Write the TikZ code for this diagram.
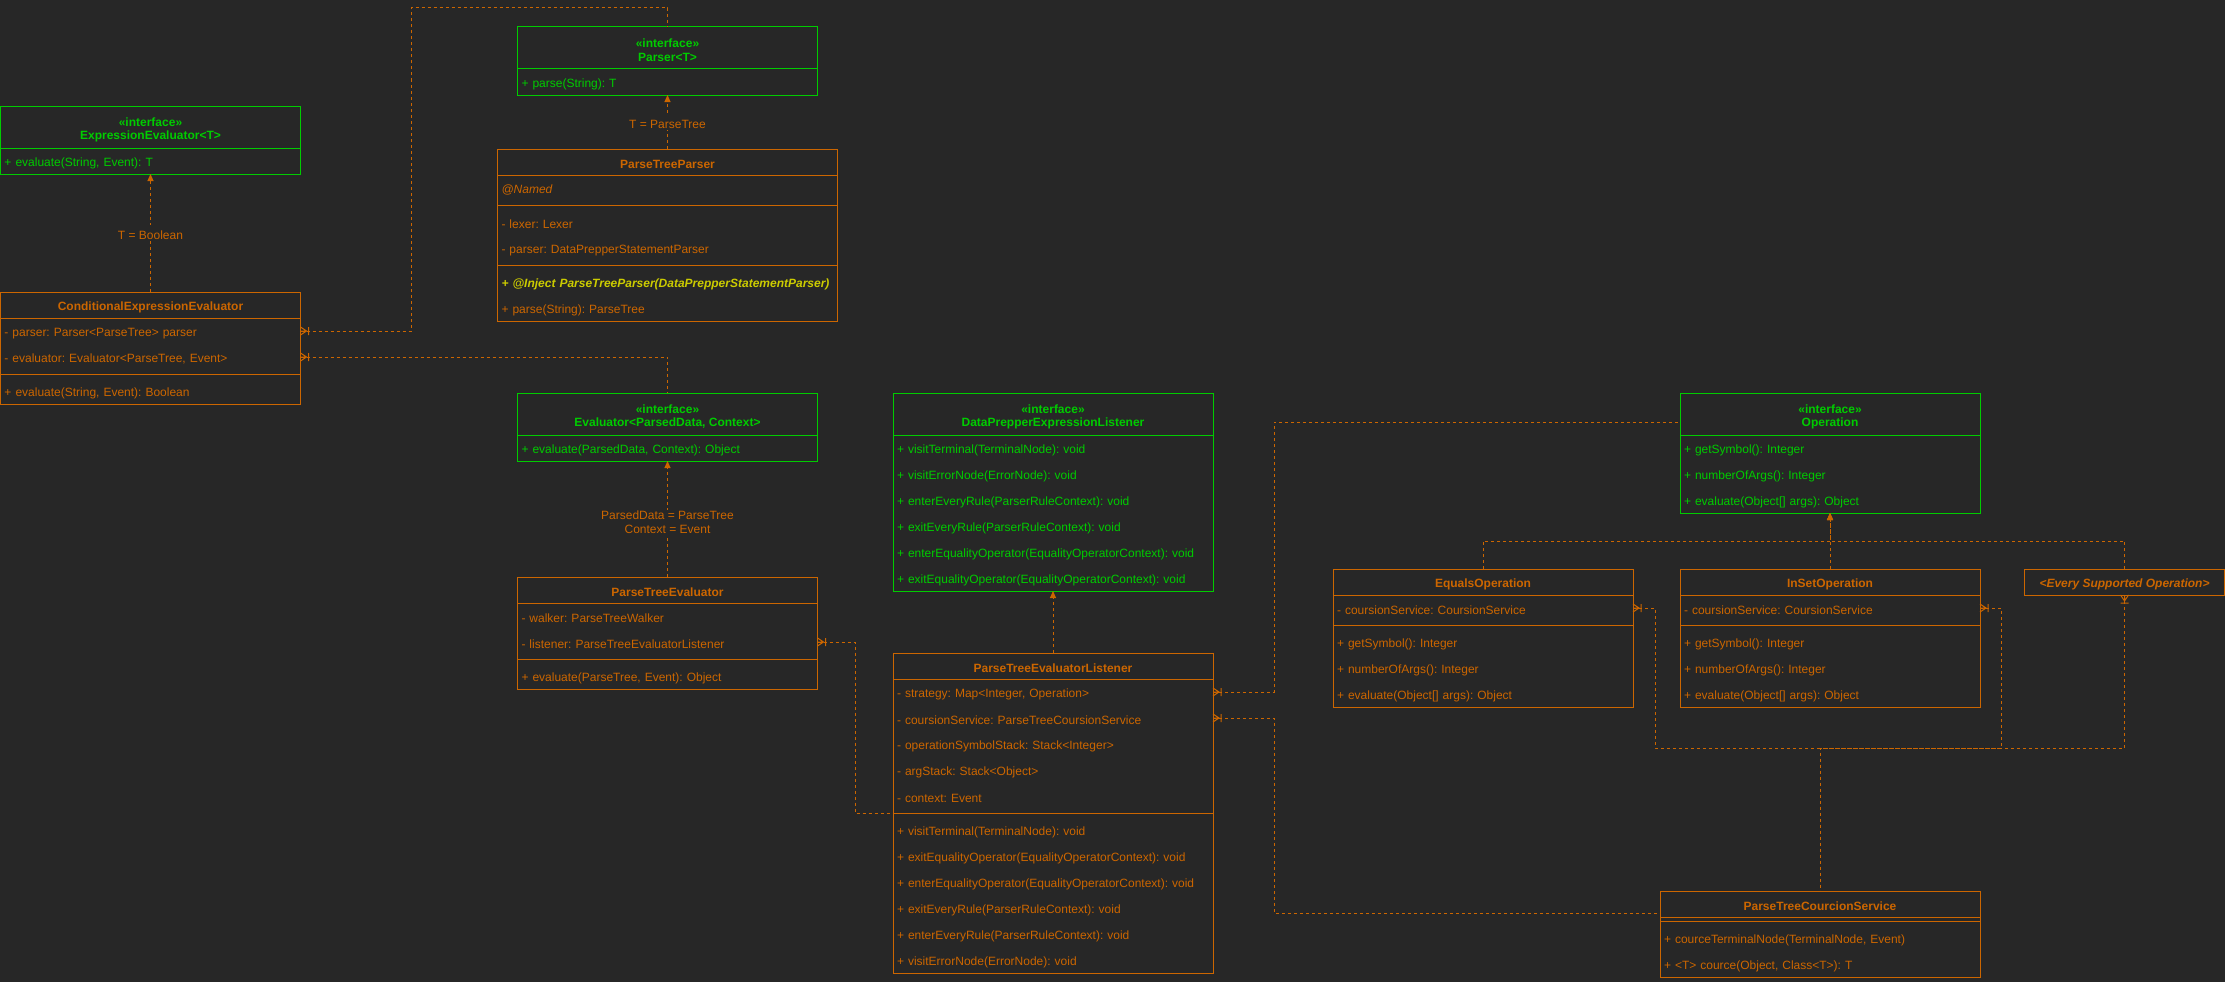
\documentclass[tikz,border=0pt]{standalone}
\usepackage{fontspec}
\setmainfont{Liberation Sans}
\usetikzlibrary{arrows.meta}
\definecolor{bgc}{HTML}{272727}
\definecolor{org}{HTML}{CC6600}
\definecolor{grn}{HTML}{00CC00}
\definecolor{ylw}{HTML}{CCCC00}
\newcommand\rowstrut{\rule[-0.6pt]{0pt}{14pt}}
\begin{document}
\frenchspacing
\begin{tikzpicture}[x=1pt,y=-1pt,
  txt/.style={font=\fontsize{12}{14.4}\selectfont, inner sep=0pt, outer sep=0pt, execute at begin node=\rowstrut},
  ttl/.style={txt, font=\fontsize{12}{14.4}\selectfont\bfseries},
  row/.style={txt, anchor=north west, minimum height=26pt, inner xsep=4pt, inner ysep=0pt, text width=#1, align=left},
  cbox/.style={draw=org, line width=1pt, anchor=north west, inner sep=0pt, outer sep=0pt},
  ibox/.style={draw=grn, line width=1pt, anchor=north west, inner sep=0pt, outer sep=0pt},
  osep/.style={draw=org, line width=1pt},
  gsep/.style={draw=grn, line width=1pt},
  dep/.style={draw=org, line width=1pt, dash pattern=on 3pt off 3pt},
  real/.style={dep, -{Triangle[length=7pt,width=6pt]}},
  lbl/.style={txt, fill=bgc, text=org, align=center, inner xsep=2pt, inner ysep=1pt},
  crow/.pic={\draw[org, line width=1pt] (0,-4) -- (6,0) -- (0,4) (0,0) -- (6,0) (8,-4) -- (8,4);}
]
\fill[bgc] (0,0) rectangle (2225,982);
\useasboundingbox (0,0) rectangle (2225,982);

% ---------- ExpressionEvaluator<T>
\node[ibox, minimum width=300pt, minimum height=68pt] (ee) at (0.5,106) {};
\node[ttl, text=grn] (ee-s) at (150.5,120) {«interface»};
\node[ttl, text=grn] (ee-n) at (150.5,134) {ExpressionEvaluator<T>};
\draw[gsep] (0.5,148) -- (300.5,148);
\node[row=292pt, text=grn] (ee-m1) at (0.5,148) {+ evaluate(String, Event): T};

% ---------- Parser<T>
\node[ibox, minimum width=300pt, minimum height=68pt] (parser) at (517.5,27) {};
\node[ttl, text=grn] (parser-s) at (667.5,41) {«interface»};
\node[ttl, text=grn] (parser-n) at (667.5,55) {Parser<T>};
\draw[gsep] (517.5,69) -- (817.5,69);
\node[row=292pt, text=grn] (parser-m1) at (517.5,69) {+ parse(String): T};

% ---------- ParseTreeParser
\node[cbox, minimum width=340pt, minimum height=172pt] (ptp) at (497.5,149) {};
\node[ttl, text=org] (ptp-n) at (667.5,162) {ParseTreeParser};
\draw[osep] (497.5,175) -- (837.5,175);
\node[row=332pt, text=org, font=\fontsize{12}{14.4}\selectfont\itshape] (ptp-a) at (497.5,175) {@Named};
\draw[osep] (497.5,205) -- (837.5,205);
\node[row=332pt, text=org] (ptp-f1) at (497.5,209) {- lexer: Lexer};
\node[row=332pt, text=org] (ptp-f2) at (497.5,235) {- parser: DataPrepperStatementParser};
\draw[osep] (497.5,265) -- (837.5,265);
\node[row=332pt, text=ylw, font=\fontsize{12}{14.4}\selectfont\bfseries\itshape] (ptp-m1) at (497.5,269) {\mbox{+ @Inject ParseTreeParser(DataPrepperStatementParser)}};
\node[row=332pt, text=org] (ptp-m2) at (497.5,295) {+ parse(String): ParseTree};

% ---------- ConditionalExpressionEvaluator
\node[cbox, minimum width=300pt, minimum height=112pt] (cee) at (0.5,292) {};
\node[ttl, text=org] (cee-n) at (150.5,305) {ConditionalExpressionEvaluator};
\draw[osep] (0.5,318) -- (300.5,318);
\node[row=292pt, text=org] (cee-f1) at (0.5,318) {- parser: Parser<ParseTree> parser};
\node[row=292pt, text=org] (cee-f2) at (0.5,344) {- evaluator: Evaluator<ParseTree, Event>};
\draw[osep] (0.5,374) -- (300.5,374);
\node[row=292pt, text=org] (cee-m1) at (0.5,378) {+ evaluate(String, Event): Boolean};

% ---------- Evaluator<ParsedData, Context>
\node[ibox, minimum width=300pt, minimum height=68pt] (ev) at (517.5,393) {};
\node[ttl, text=grn] (ev-s) at (667.5,407) {«interface»};
\node[ttl, text=grn] (ev-n) at (667.5,421) {Evaluator<ParsedData, Context>};
\draw[gsep] (517.5,435) -- (817.5,435);
\node[row=292pt, text=grn] (ev-m1) at (517.5,435) {+ evaluate(ParsedData, Context): Object};

% ---------- ParseTreeEvaluator
\node[cbox, minimum width=300pt, minimum height=112pt] (pte) at (517.5,577) {};
\node[ttl, text=org] (pte-n) at (667.5,590) {ParseTreeEvaluator};
\draw[osep] (517.5,603) -- (817.5,603);
\node[row=292pt, text=org] (pte-f1) at (517.5,603) {- walker: ParseTreeWalker};
\node[row=292pt, text=org] (pte-f2) at (517.5,629) {- listener: ParseTreeEvaluatorListener};
\draw[osep] (517.5,659) -- (817.5,659);
\node[row=292pt, text=org] (pte-m1) at (517.5,663) {+ evaluate(ParseTree, Event): Object};

% ---------- DataPrepperExpressionListener
\node[ibox, minimum width=320pt, minimum height=198pt] (dpel) at (893,393) {};
\node[ttl, text=grn] (dpel-s) at (1053,407) {«interface»};
\node[ttl, text=grn] (dpel-n) at (1053,421) {DataPrepperExpressionListener};
\draw[gsep] (893,435) -- (1213,435);
\node[row=312pt, text=grn] (dpel-m1) at (893,435) {+ visitTerminal(TerminalNode): void};
\node[row=312pt, text=grn] (dpel-m2) at (893,461) {+ visitErrorNode(ErrorNode): void};
\node[row=312pt, text=grn] (dpel-m3) at (893,487) {+ enterEveryRule(ParserRuleContext): void};
\node[row=312pt, text=grn] (dpel-m4) at (893,513) {+ exitEveryRule(ParserRuleContext): void};
\node[row=312pt, text=grn] (dpel-m5) at (893,539) {+ enterEqualityOperator(EqualityOperatorContext): void};
\node[row=312pt, text=grn] (dpel-m6) at (893,565) {+ exitEqualityOperator(EqualityOperatorContext): void};

% ---------- ParseTreeEvaluatorListener
\node[cbox, minimum width=320pt, minimum height=320pt] (ptel) at (893,653) {};
\node[ttl, text=org] (ptel-n) at (1053,666) {ParseTreeEvaluatorListener};
\draw[osep] (893,679) -- (1213,679);
\node[row=312pt, text=org] (ptel-f1) at (893,679) {- strategy: Map<Integer, Operation>};
\node[row=312pt, text=org] (ptel-f2) at (893,705) {- coursionService: ParseTreeCoursionService};
\node[row=312pt, text=org] (ptel-f3) at (893,731) {- operationSymbolStack: Stack<Integer>};
\node[row=312pt, text=org] (ptel-f4) at (893,757) {- argStack: Stack<Object>};
\node[row=312pt, text=org] (ptel-f5) at (893,783) {- context: Event};
\draw[osep] (893,813) -- (1213,813);
\node[row=312pt, text=org] (ptel-m1) at (893,817) {+ visitTerminal(TerminalNode): void};
\node[row=312pt, text=org] (ptel-m2) at (893,843) {+ exitEqualityOperator(EqualityOperatorContext): void};
\node[row=312pt, text=org] (ptel-m3) at (893,869) {+ enterEqualityOperator(EqualityOperatorContext): void};
\node[row=312pt, text=org] (ptel-m4) at (893,895) {+ exitEveryRule(ParserRuleContext): void};
\node[row=312pt, text=org] (ptel-m5) at (893,921) {+ enterEveryRule(ParserRuleContext): void};
\node[row=312pt, text=org] (ptel-m6) at (893,947) {+ visitErrorNode(ErrorNode): void};

% ---------- Operation
\node[ibox, minimum width=300pt, minimum height=120pt] (op) at (1680,393) {};
\node[ttl, text=grn] (op-s) at (1830,407) {«interface»};
\node[ttl, text=grn] (op-n) at (1830,421) {Operation};
\draw[gsep] (1680,435) -- (1980,435);
\node[row=292pt, text=grn] (op-m1) at (1680,435) {+ getSymbol(): Integer};
\node[row=292pt, text=grn] (op-m2) at (1680,461) {+ numberOfArgs(): Integer};
\node[row=292pt, text=grn] (op-m3) at (1680,487) {+ evaluate(Object[] args): Object};

% ---------- EqualsOperation
\node[cbox, minimum width=300pt, minimum height=138pt] (eq) at (1333,569) {};
\node[ttl, text=org] (eq-n) at (1483,582) {EqualsOperation};
\draw[osep] (1333,595) -- (1633,595);
\node[row=292pt, text=org] (eq-f1) at (1333,595) {- coursionService: CoursionService};
\draw[osep] (1333,625) -- (1633,625);
\node[row=292pt, text=org] (eq-m1) at (1333,629) {+ getSymbol(): Integer};
\node[row=292pt, text=org] (eq-m2) at (1333,655) {+ numberOfArgs(): Integer};
\node[row=292pt, text=org] (eq-m3) at (1333,681) {+ evaluate(Object[] args): Object};

% ---------- InSetOperation
\node[cbox, minimum width=300pt, minimum height=138pt] (ins) at (1680,569) {};
\node[ttl, text=org] (ins-n) at (1830,582) {InSetOperation};
\draw[osep] (1680,595) -- (1980,595);
\node[row=292pt, text=org] (ins-f1) at (1680,595) {- coursionService: CoursionService};
\draw[osep] (1680,625) -- (1980,625);
\node[row=292pt, text=org] (ins-m1) at (1680,629) {+ getSymbol(): Integer};
\node[row=292pt, text=org] (ins-m2) at (1680,655) {+ numberOfArgs(): Integer};
\node[row=292pt, text=org] (ins-m3) at (1680,681) {+ evaluate(Object[] args): Object};

% ---------- <Every Supported Operation>
\node[cbox, minimum width=200pt, minimum height=26pt] (eso) at (2024.5,569) {};
\node[ttl, text=org, font=\fontsize{12}{14.4}\selectfont\bfseries\itshape] (eso-n) at (2124.5,582) {<Every Supported Operation>};

% ---------- ParseTreeCourcionService
\node[cbox, minimum width=320pt, minimum height=86pt] (ptcs) at (1660,891) {};
\node[ttl, text=org] (ptcs-n) at (1820,904) {ParseTreeCourcionService};
\draw[osep] (1660,917) -- (1980,917);
\draw[osep] (1660,921) -- (1980,921);
\node[row=312pt, text=org] (ptcs-m1) at (1660,925) {+ courceTerminalNode(TerminalNode, Event)};
\node[row=312pt, text=org] (ptcs-m2) at (1660,951) {+ <T> cource(Object, Class<T>): T};

% ---------- connector bends
\coordinate (c3) at (411,8);
\coordinate (c6) at (855,813);
\coordinate (c8) at (1274,422);
\coordinate (c9) at (1274,913);
\coordinate (j1) at (1830,541);
\coordinate (c13) at (1655,748);
\coordinate (c14) at (2001,748);
\coordinate (j2) at (1820,748);

% ---------- realizations
\draw[real] (ptp.north) -- (parser.south) node[lbl, pos=0.5] {T = ParseTree};
\draw[real] (cee.north) -- (ee.south) node[lbl, pos=0.5] {T = Boolean};
\draw[real] (pte.north) -- (ev.south) node[lbl, pos=0.47] {ParsedData = ParseTree\\Context = Event};
\draw[real] (ptel.north) -- (dpel.south);
\draw[real] (eq.north) |- (j1) -- (op.south);
\draw[real] (eso.north) |- (j1) -- (op.south);
\draw[real] (ins.north) -- (op.south);

% ---------- dependencies
\draw[dep] (cee-f1.east) -| (c3) -| (parser.north);
\draw[dep] (cee-f2.east) -| (ev.north);
\draw[dep] (pte-f2.east) -| (c6) -- (ptel.west |- c6);
\draw[dep] (ptel-f1.east) -| (c8) -- (op.west |- c8);
\draw[dep] (ptel-f2.east) -| (c9) -- (ptcs.west |- c9);
\draw[dep] (eq-f1.east) -| (c13) -- (j2);
\draw[dep] (ins-f1.east) -| (c14) -- (j2);
\draw[dep] (eso.south) |- (j2) -- (ptcs.north);

% ---------- multiplicity markers
\pic at (cee-f1.east) {crow};
\pic at (cee-f2.east) {crow};
\pic at (pte-f2.east) {crow};
\pic at (ptel-f1.east) {crow};
\pic at (ptel-f2.east) {crow};
\pic at (eq-f1.east) {crow};
\pic at (ins-f1.east) {crow};
\pic[rotate=-90] at (eso.south) {crow};
\end{tikzpicture}
\end{document}
